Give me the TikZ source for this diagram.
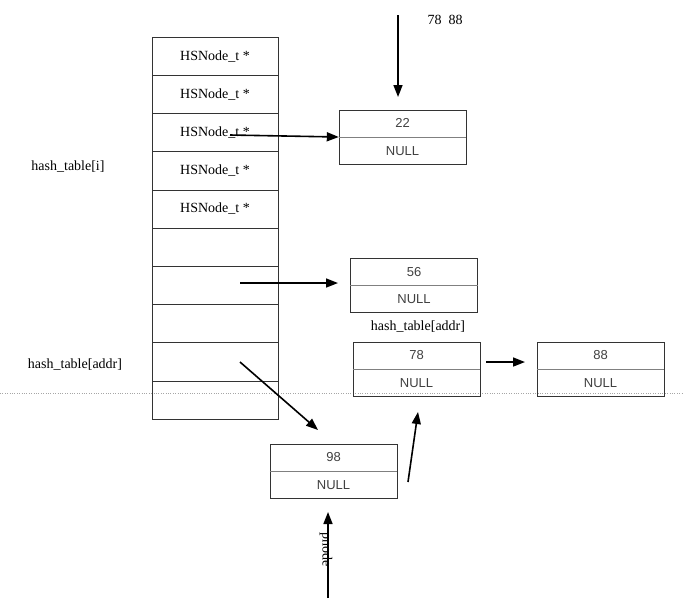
\documentclass[tikz,border=0pt]{standalone}
\usepackage{fontspec}
\setmainfont{Liberation Serif}
\newfontfamily\boxfont{Liberation Sans}
\usetikzlibrary{positioning}
\usetikzlibrary{calc}
\usetikzlibrary{arrows.meta}

\begin{document}
\begin{tikzpicture}[x=1pt,y=-1pt,
cellnode/.style={rectangle, draw=black!80, minimum width=126pt, minimum height=38.2pt, inner sep=0pt, font=\fontsize{14}{16}\selectfont},
listnode/.style={rectangle, draw=black!80, minimum width=127pt, minimum height=54pt, inner sep=0pt},
fieldtext/.style={font=\boxfont\fontsize{13}{15}\selectfont, text=black!75},
labelnode/.style={font=\fontsize{14}{16}\selectfont},
pointer/.style={-{Triangle[length=12pt,width=9pt]}, line width=1.6pt},
]
\useasboundingbox (0,0) rectangle (684,606);
%Divider
\draw[gray!70, dotted] (0,393) -- (684,393);

%Table
\foreach \i in {1,...,10} {
  \node[cellnode] (cell\i) at (215,{37+19.1+38.2*(\i-1)}) {};
}
\foreach \i in {1,...,5} {
  \node[labelnode] at (cell\i) {HSNode\_t *};
}
\node[labelnode] (lbli)    at (68,167)  {hash\_table[i]};
\node[labelnode] (lbladdr) at (75,365)  {hash\_table[addr]};

%List nodes
\newcommand{\listbox}[4]{%
  \node[listnode] (#1) at (#2,#3) {};
  \draw[gray, line width=1pt] (#1.west) -- (#1.east);
  \node[fieldtext] at ($(#1.north)!0.5!(#1.center)$) {#4};
  \node[fieldtext] at ($(#1.south)!0.5!(#1.center)$) {NULL};
}
\listbox{n22}{402.5}{137}{22}
\listbox{n56}{414}{285.5}{56}
\listbox{n78}{416.5}{369}{78}
\listbox{n88}{600.5}{369}{88}
\listbox{n98}{333.5}{471}{98}
\node[labelnode] (lbltop)  at (445,20)  {78\enspace 88};
\node[labelnode] (lblnew)  at (418,327) {hash\_table[addr]};
\node[labelnode, rotate=-90] (pnode) at (326,550) {pnode};

%Pointers
\coordinate (topstart) at (398,15);
\coordinate (topend) at (398,97);
\coordinate (p3) at (230,135);
\coordinate (p7) at (240,283);
\coordinate (p9) at (240,362);
\coordinate (p98) at (408,482);
\coordinate (pbot) at (328,598);
\coordinate (n88in) at (525,362);
\draw[pointer] (topstart) -- (topend);
\draw[pointer] (p3) -- (n22.west);
\draw[pointer] (p7) -- (338,283);
\draw[pointer] (486,362) -- (n88in);
\draw[pointer] (p9) -- (318,430);
\draw[pointer] (p98) -- (418,412);
\draw[pointer] (pbot) -- (328,512);
\end{tikzpicture}
\end{document}
